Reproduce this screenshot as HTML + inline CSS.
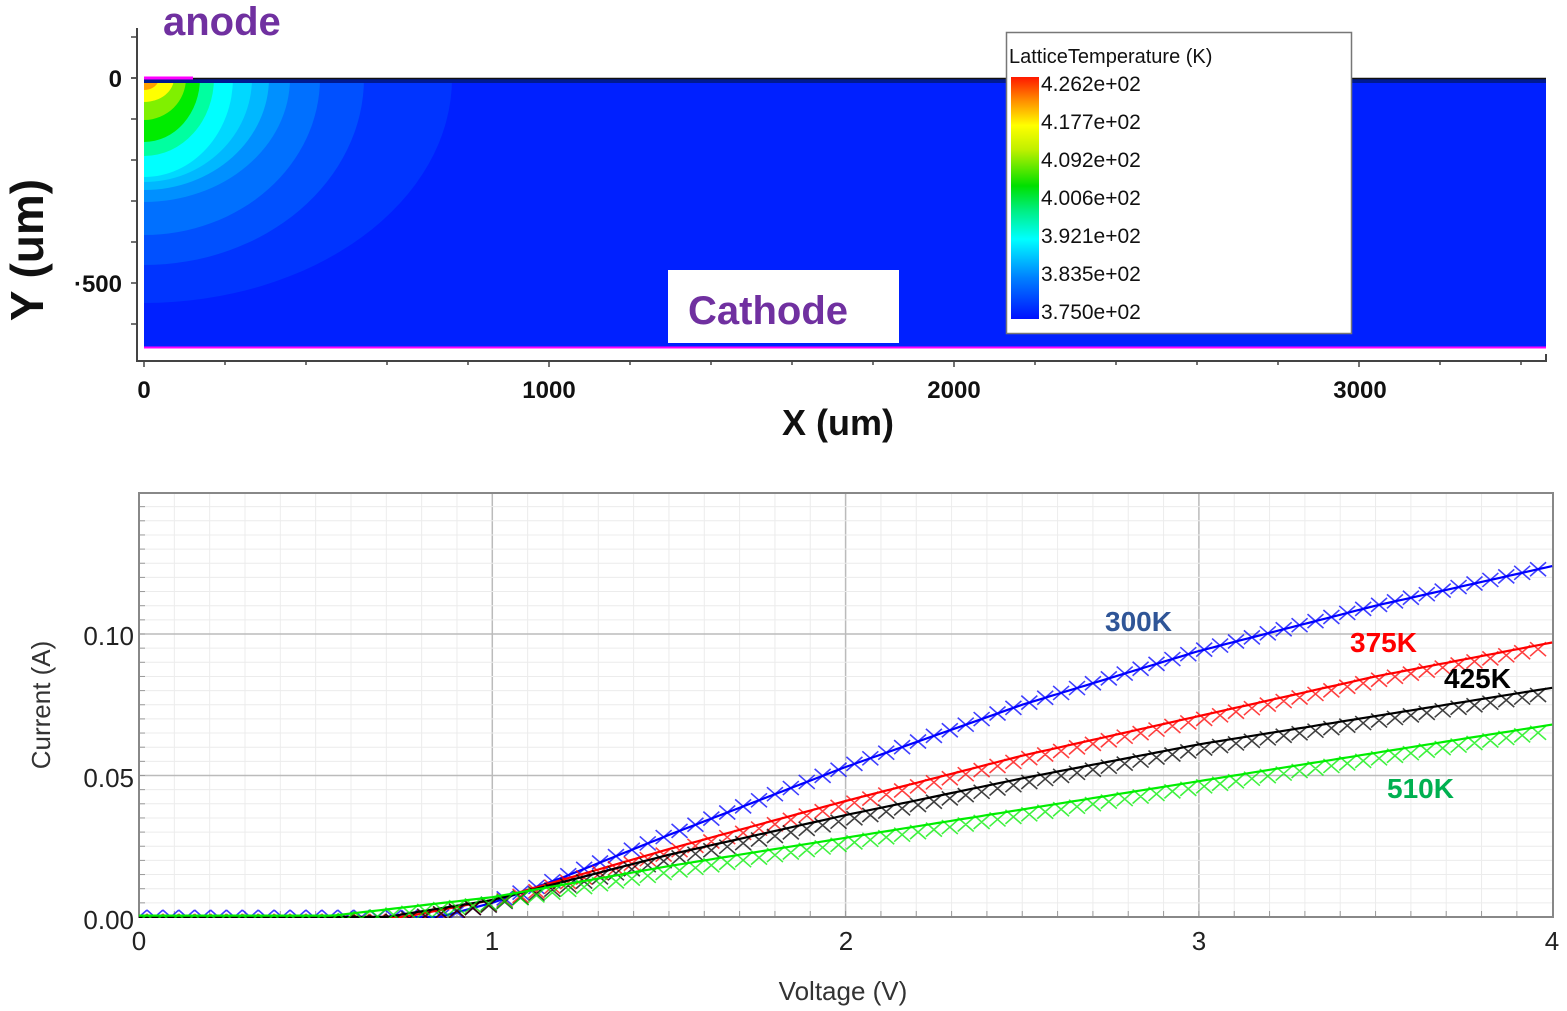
<!DOCTYPE html>
<html><head><meta charset="utf-8"><style>
html,body{margin:0;padding:0;background:#fff;}
svg{display:block;}
text{font-family:"Liberation Sans","DejaVu Sans",sans-serif;}
</style></head><body>
<svg id="s" width="1567" height="1011" viewBox="0 0 1567 1011" xmlns="http://www.w3.org/2000/svg">
<defs><clipPath id="cp"><rect x="144" y="78" width="1402" height="270"/></clipPath>
<clipPath id="cp2"><rect x="139" y="492" width="1415" height="426"/></clipPath></defs>
<rect x="144" y="78" width="1402" height="270" fill="#0020ff"/>
<g id="cont" clip-path="url(#cp)"></g>
<rect x="144" y="78" width="1402" height="5" fill="#001a90"/>
<line x1="144" y1="78.5" x2="1546" y2="78.5" stroke="#111" stroke-width="1.5"/>
<line x1="144" y1="78" x2="193" y2="78" stroke="#ff00ff" stroke-width="3"/>
<line x1="144" y1="347.5" x2="1546" y2="347.5" stroke="#ff00ff" stroke-width="2"/>
<g stroke="#444" stroke-width="2" fill="none">
<path d="M137 28 V361 H1546 V354"/>
</g>
<g id="ticksTop" stroke="#444" stroke-width="1.5"></g>
<g font-size="24" fill="#111" text-anchor="middle" font-weight="bold">
<text x="144" y="398">0</text><text x="549" y="398">1000</text><text x="954" y="398">2000</text><text x="1360" y="398">3000</text>
</g>
<g font-size="24" fill="#111" text-anchor="end" font-weight="bold">
<text x="122" y="87">0</text><text x="122" y="292">·500</text>
</g>
<text x="163" y="35" font-size="40" font-weight="bold" fill="#7030a0">anode</text>
<text transform="translate(43,250) rotate(-90)" font-size="46" font-weight="bold" fill="#111" text-anchor="middle">Y (um)</text>
<text x="838" y="435" font-size="36" font-weight="bold" fill="#111" text-anchor="middle">X (um)</text>
<rect x="668" y="270" width="231" height="73" fill="#fff"/>
<text x="768" y="324" font-size="40" font-weight="bold" fill="#7030a0" text-anchor="middle">Cathode</text>
<rect x="1006.5" y="32.5" width="345" height="301" fill="#fff" stroke="#777" stroke-width="1.5"/>
<text x="1009" y="63" font-size="20" fill="#111">LatticeTemperature (K)</text>
<defs><linearGradient id="cb" x1="0" y1="1" x2="0" y2="0">
<stop offset="0" stop-color="#0010ff"/><stop offset="0.17" stop-color="#0080ff"/><stop offset="0.33" stop-color="#00ffff"/>
<stop offset="0.45" stop-color="#00ee80"/><stop offset="0.55" stop-color="#00e000"/><stop offset="0.7" stop-color="#c0f000"/>
<stop offset="0.8" stop-color="#ffff00"/><stop offset="0.9" stop-color="#ff9000"/><stop offset="1" stop-color="#ff1800"/>
</linearGradient></defs>
<rect x="1011" y="77" width="28" height="242" fill="url(#cb)"/>
<g font-size="21" fill="#111">
<text x="1041" y="91">4.262e+02</text><text x="1041" y="129">4.177e+02</text><text x="1041" y="167">4.092e+02</text>
<text x="1041" y="205">4.006e+02</text><text x="1041" y="243">3.921e+02</text><text x="1041" y="281">3.835e+02</text><text x="1041" y="319">3.750e+02</text>
</g>
<g id="grid"></g>
<rect x="139" y="493" width="1414" height="424" fill="none" stroke="#888" stroke-width="2"/>
<g id="series" clip-path="url(#cp2)"></g>
<g font-size="26" fill="#222" text-anchor="end">
<text x="134" y="645">0.10</text><text x="134" y="787">0.05</text><text x="134" y="929">0.00</text>
</g>
<g font-size="26" fill="#222" text-anchor="middle">
<text x="139" y="950">0</text><text x="492" y="950">1</text><text x="846" y="950">2</text><text x="1199" y="950">3</text><text x="1552" y="950">4</text>
</g>
<text x="843" y="1000" font-size="26" fill="#333" text-anchor="middle">Voltage (V)</text>
<text transform="translate(50,705) rotate(-90)" font-size="26" fill="#333" text-anchor="middle">Current (A)</text>
<g font-size="28" font-weight="bold">
<text x="1105" y="631" fill="#2f5597">300K</text>
<text x="1350" y="652" fill="#ff0000">375K</text>
<text x="1444" y="688" fill="#000">425K</text>
<text x="1387" y="798" fill="#00b050">510K</text>
</g>
</svg>
<script>
var NS="http://www.w3.org/2000/svg";
function el(p,t,a){var e=document.createElementNS(NS,t);for(var k in a)e.setAttribute(k,a[k]);p.appendChild(e);return e;}
var cont=document.getElementById("cont");
var bands=[["#0034ff",308,225],["#0050ff",220,187],["#0070ff",176,157],["#0090ff",146,124],["#00b8ff",125,112],["#00d8ff",108,104],["#00ffff",89,99],["#00ffa0",70,78],["#00ec00",56,64],["#80f000",42,42],["#ffff00",30,24],["#ffa000",15,12],["#ff2000",6,5]];
bands.forEach(function(b){el(cont,"ellipse",{cx:144,cy:78,rx:b[1],ry:b[2],fill:b[0]});});
var tt=document.getElementById("ticksTop");
for(var x=144;x<=1546;x+=81)el(tt,"line",{x1:x,y1:361,x2:x,y2:(Math.round((x-144)/81)%5==0)?367:365});
for(var y=78;y>=30;y-=41)el(tt,"line",{x1:131,y1:y,x2:137,y2:y});
for(var y=78;y<=361;y+=41)el(tt,"line",{x1:131,y1:y,x2:137,y2:y});
var g=document.getElementById("grid");
function X(v){return 139+v*353.3;}function Y(i){return 917-i*2830;}
for(var k=1;k<40;k++){var x=X(k/10);el(g,"line",{x1:x,y1:493,x2:x,y2:917,stroke:k%10==0?"#bbb":"#ececec","stroke-width":k%10==0?1.5:1});el(g,"line",{x1:x,y1:917,x2:x,y2:911,stroke:"#999"});}
for(var k=1;k<30;k++){var y=Y(k*0.005);el(g,"line",{x1:139,y1:y,x2:1553,y2:y,stroke:k%10==0?"#bbb":"#ececec","stroke-width":k%10==0?1.5:1});el(g,"line",{x1:139,y1:y,x2:145,y2:y,stroke:"#999"});}
var S=[
["#0000ff",[[0,0],[0.85,0],[1,0.005],[1.2,0.014],[1.5,0.029],[2,0.053],[2.5,0.075],[3,0.094],[3.5,0.110],[4,0.124]],0],
["#ff0000",[[0,0],[0.75,0],[1,0.006],[1.5,0.024],[2,0.041],[2.5,0.057],[3,0.071],[3.5,0.085],[4,0.097]],4],
["#000000",[[0,0],[0.7,0],[1,0.006],[1.5,0.022],[2,0.036],[2.5,0.049],[3,0.061],[3.5,0.071],[4,0.081]],5],
["#00ee00",[[0,0.0005],[0.55,0.0005],[1,0.007],[1.5,0.018],[2,0.028],[2.5,0.038],[3,0.048],[3.5,0.058],[4,0.068]],6]];
function f(p,v){for(var i=1;i<p.length;i++){if(v<=p[i][0]){var a=p[i-1],b=p[i],t=(v-a[0])/(b[0]-a[0]);return a[1]+t*(b[1]-a[1]);}}return p[p.length-1][1];}
var sg=document.getElementById("series");
S.forEach(function(s){var d="";for(var v=0;v<=4.001;v+=0.02){d+=(v==0?"M":"L")+X(v).toFixed(1)+" "+Y(f(s[1],v)).toFixed(1);}
el(sg,"path",{d:d,fill:"none",stroke:s[0],"stroke-width":2.2});
var m="";for(var v=0;v<=4.001;v+=0.045){var cx=X(v),cy=Y(f(s[1],v))+s[2];m+="M"+(cx-8)+" "+(cy-7)+"L"+(cx+8)+" "+(cy+7)+"M"+(cx+8)+" "+(cy-7)+"L"+(cx-8)+" "+(cy+7);}
el(sg,"path",{d:m,fill:"none",stroke:s[0],"stroke-width":1.6,opacity:0.75});});
</script>
</body></html>
